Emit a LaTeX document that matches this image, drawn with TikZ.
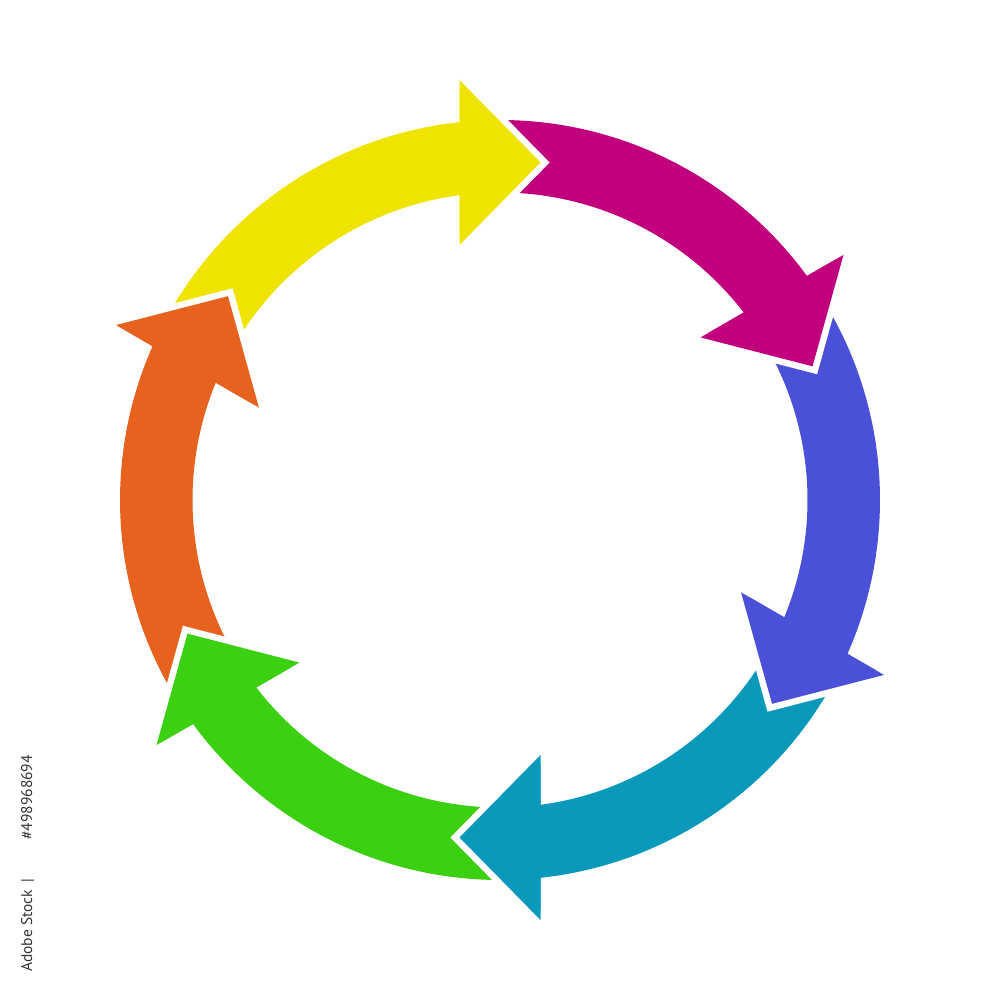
\documentclass[tikz,border=0pt]{standalone}
\usepackage{fontspec}
\newfontfamily\idfont{PT Sans}
\usetikzlibrary{calc}
\definecolor{cyel}{HTML}{EFE300}
\definecolor{cmag}{HTML}{C2007D}
\definecolor{cblu}{HTML}{4A50D8}
\definecolor{ctea}{HTML}{0A99BA}
\definecolor{cgre}{HTML}{3BD012}
\definecolor{cora}{HTML}{E8621F}
\definecolor{idgray}{HTML}{333333}
\tikzset{
  gapline/.style={white, line width=13, line join=miter},
  idtext/.style={rotate=90, text=idgray, inner sep=0pt, font=\idfont\fontsize{15.5}{15.5}\selectfont}
}
\begin{document}
\begin{tikzpicture}[x=1pt,y=1pt]
\useasboundingbox (0,0) rectangle (1000,1000);
\fill[white] (0,0) rectangle (1000,1000);
\begin{scope}[shift={(500,500)}]
% bodies (with heads)
\foreach \a/\c in {90/cyel, 30/cmag, -30/cblu, -90/ctea, -150/cgre, 150/cora}{
  \fill[\c] ({\a+63}:380) arc[start angle={\a+63}, end angle={\a+6.12}, radius=380]
    -- ($({\a}:420)+({\a+90}:40.5)$)
    -- ($({\a}:337.5)+({\a-90}:40.5)$)
    -- ($({\a}:255)+({\a+90}:40.5)$)
    -- ({\a+7.57}:307.5) arc[start angle={\a+7.57}, end angle={\a+63}, radius=307.5]
    -- cycle;
}
% heads with white gap on top of the next tail
\foreach \a/\c in {90/cyel, 30/cmag, -30/cblu, -90/ctea, -150/cgre, 150/cora}{
  \coordinate (ob) at ($({\a}:420)+({\a+90}:40.5)$);
  \coordinate (tp) at ($({\a}:337.5)+({\a-90}:40.5)$);
  \coordinate (ib) at ($({\a}:255)+({\a+90}:40.5)$);
  \draw[gapline] (ob) -- (tp) -- (ib);
  \fill[\c] (ob) -- (tp) -- (ib) -- cycle;
}
\end{scope}
\node[idtext, anchor=base east] (idnum) at (32,245) {\#498968694};
\node[idtext, anchor=base west] (idsrc) at (32,28) {Adobe Stock \,|};
\end{tikzpicture}
\end{document}
